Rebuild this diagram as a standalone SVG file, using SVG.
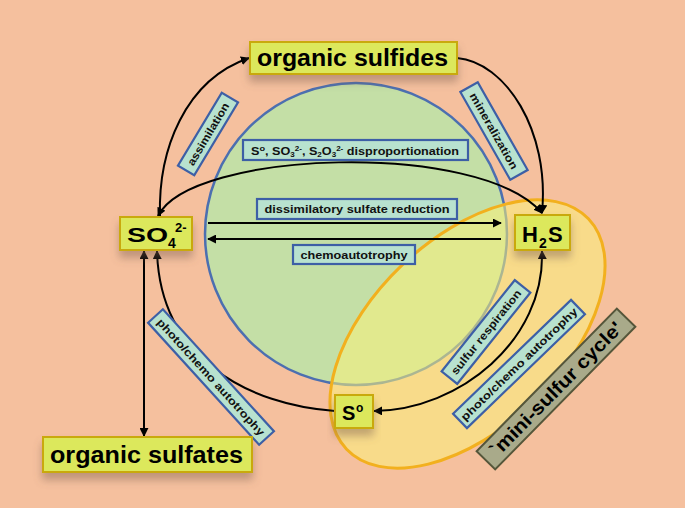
<svg xmlns="http://www.w3.org/2000/svg" width="685" height="508" viewBox="0 0 685 508">
<defs>
<style>
.node{fill:#DCE85C;stroke:#C9A90A;stroke-width:2;}
.nt{font-family:"Liberation Sans",Arial,sans-serif;font-weight:bold;fill:#000;}
.lab{fill:#B8E2CF;stroke:#3D5FA6;stroke-width:2.2;}
.lt{font-family:"Liberation Sans",Arial,sans-serif;font-weight:bold;font-size:11px;fill:#111;text-anchor:middle;}
.con{fill:none;stroke:#000;stroke-width:2;}
</style>
<marker id="ah" viewBox="0 0 10 10" refX="9" refY="5" markerWidth="9" markerHeight="9" markerUnits="userSpaceOnUse" orient="auto-start-reverse">
<path d="M0,0 L10,5 L0,10 z" fill="#000"/>
</marker>
<filter id="sh" x="-20%" y="-30%" width="140%" height="190%">
<feDropShadow dx="0" dy="7" stdDeviation="4" flood-color="#7a5f50" flood-opacity="0.45"/>
</filter>
</defs>
<rect x="0" y="0" width="685" height="508" fill="#F5C09E"/>
<g id="background-shapes">
<circle cx="356" cy="234" r="151" fill="#C4DFA6" stroke="#4C6FB0" stroke-width="2.5"/>
<ellipse cx="467.5" cy="334" rx="167" ry="95" transform="rotate(-43.6 467.5 334)" fill="#FAF07A" fill-opacity="0.55" stroke="#F2B01E" stroke-width="3"/>
</g>
<g id="connectors">
<path class="con" d="M160,216 C158,150 185,80 249,58" marker-end="url(#ah)"/>
<path class="con" d="M457,58 C505,62 550,130 542,213" marker-end="url(#ah)"/>
<path class="con" d="M158,216 C190,150 480,140 542,213" marker-start="url(#ah)" marker-end="url(#ah)"/>
<path class="con" d="M208,223 L501,223" marker-end="url(#ah)"/>
<path class="con" d="M501,239 L208,239" marker-end="url(#ah)"/>
<path class="con" d="M144,251 L144,436" marker-start="url(#ah)" marker-end="url(#ah)"/>
<path class="con" d="M335,411 C250,405 160,360 157,251" marker-end="url(#ah)"/>
<path class="con" d="M374,411 C460,410 545,340 542,251" marker-start="url(#ah)" marker-end="url(#ah)"/>
</g>
<g id="label-assimilation" transform="translate(208,134) rotate(-59)">
<rect class="lab" x="-42.5" y="-9.5" width="85" height="19"/>
<text class="lt" x="0" y="4" textLength="71" lengthAdjust="spacingAndGlyphs">assimilation</text>
</g>
<g id="label-mineralization" transform="translate(494,131) rotate(60.4)">
<rect class="lab" x="-50.5" y="-10" width="101" height="20"/>
<text class="lt" x="0" y="4" textLength="86" lengthAdjust="spacingAndGlyphs">mineralization</text>
</g>
<g id="label-disproportionation">
<rect class="lab" x="243" y="140" width="225" height="20"/>
<text class="lt" x="355" y="154.5" textLength="208" lengthAdjust="spacingAndGlyphs">S<tspan font-size="8" dy="-4">o</tspan><tspan dy="4">, SO</tspan><tspan font-size="7" dy="2">3</tspan><tspan font-size="7" dy="-6">2-</tspan><tspan dy="4">, S</tspan><tspan font-size="7" dy="2">2</tspan><tspan dy="-2">O</tspan><tspan font-size="7" dy="2">3</tspan><tspan font-size="7" dy="-6">2-</tspan><tspan dy="4"> disproportionation</tspan></text>
</g>
<g id="label-dissimilatory">
<rect class="lab" x="257" y="199" width="200" height="20"/>
<text class="lt" x="357" y="213" textLength="185" lengthAdjust="spacingAndGlyphs">dissimilatory sulfate reduction</text>
</g>
<g id="label-chemoautotrophy">
<rect class="lab" x="293" y="245" width="122" height="19"/>
<text class="lt" x="354" y="258.5" textLength="107" lengthAdjust="spacingAndGlyphs">chemoautotrophy</text>
</g>
<g id="label-photo-left" transform="translate(211,377) rotate(47.7)">
<rect class="lab" x="-82.5" y="-10" width="165" height="20"/>
<text class="lt" x="0" y="4" textLength="154" lengthAdjust="spacingAndGlyphs">photo/chemo autotrophy</text>
</g>
<g id="label-sulfur-respiration" transform="translate(486,332) rotate(-51.3)">
<rect class="lab" x="-58.5" y="-10" width="117" height="20"/>
<text class="lt" x="0" y="4" textLength="105" lengthAdjust="spacingAndGlyphs">sulfur respiration</text>
</g>
<g id="label-photo-right" transform="translate(519,364) rotate(-44)">
<rect class="lab" x="-82" y="-10" width="164" height="20"/>
<text class="lt" x="0" y="4" textLength="157" lengthAdjust="spacingAndGlyphs">photo/chemo autotrophy</text>
</g>
<g id="label-mini-sulfur-cycle" transform="translate(556,389) rotate(-45.5)">
<rect x="-100" y="-13" width="200" height="26" fill="#A9AA8A" stroke="#55563A" stroke-width="2"/>
<text class="nt" x="0" y="6.5" font-size="19" text-anchor="middle" textLength="180" lengthAdjust="spacingAndGlyphs">`mini-sulfur cycle'</text>
</g>
<g id="node-organic-sulfides">
<rect class="node" x="250" y="42" width="207" height="32" filter="url(#sh)"/>
<text class="nt" x="257" y="66" font-size="24" textLength="191" lengthAdjust="spacingAndGlyphs">organic sulfides</text>
</g>
<g id="node-so4">
<rect class="node" x="120" y="217" width="72" height="33" filter="url(#sh)"/>
<text class="nt" x="127" y="242" font-size="21" textLength="41" lengthAdjust="spacingAndGlyphs">SO</text>
<text class="nt" x="168" y="248" font-size="14">4</text>
<text class="nt" x="175" y="232" font-size="13">2-</text>
</g>
<g id="node-h2s">
<rect class="node" x="515" y="215" width="55" height="35" filter="url(#sh)"/>
<text class="nt" x="522" y="242" font-size="22">H</text>
<text class="nt" x="539" y="248" font-size="14">2</text>
<text class="nt" x="548" y="242" font-size="22">S</text>
</g>
<g id="node-s0">
<rect class="node" x="335" y="395" width="38" height="33" filter="url(#sh)"/>
<text class="nt" x="342" y="420" font-size="20">S</text>
<text class="nt" x="356" y="412" font-size="12">o</text>
</g>
<g id="node-organic-sulfates">
<rect class="node" x="43" y="437" width="209" height="35" filter="url(#sh)"/>
<text class="nt" x="50" y="463" font-size="24" textLength="193" lengthAdjust="spacingAndGlyphs">organic sulfates</text>
</g>
</svg>
